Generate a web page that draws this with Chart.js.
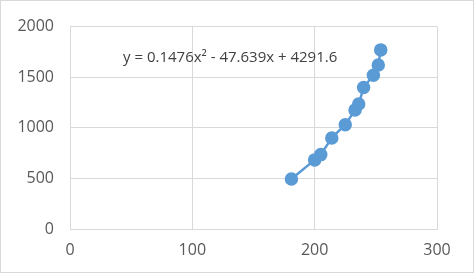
<!DOCTYPE html>
<html>
<head>
<meta charset="utf-8">
<script src="https://cdn.jsdelivr.net/npm/chart.js@4/dist/chart.umd.min.js"></script>
<style>
  html, body { margin: 0; padding: 0; background: #fff; }
  #wrap { position: relative; width: 474px; height: 273px; box-sizing: border-box; border: 1px solid #d9d9d9; }
  canvas { display: block; }
</style>
</head>
<body>
<div id="wrap"><canvas id="c" width="472" height="271"></canvas></div>
<script>
const xValues = [181, 200, 205, 214, 225, 233, 236, 240, 248, 252, 254];
const yValues = [494, 683, 735, 900, 1030, 1175, 1235, 1398, 1520, 1620, 1770];
const xTicks = [0, 100, 200, 300];
const yTicks = [0, 500, 1000, 1500, 2000];
const equationLabel = 'y = 0.1476x\u00B2 - 47.639x + 4291.6';

const points = xValues.map((x, i) => ({ x: x, y: yValues[i] }));
const FONT = '"Open Sans", "Liberation Sans", Arial, sans-serif';

const equationPlugin = {
  id: 'equation',
  afterDatasetsDraw(chart) {
    const ctx = chart.ctx;
    const area = chart.chartArea;
    ctx.save();
    ctx.font = '15px ' + FONT;
    ctx.fillStyle = '#404040';
    ctx.textAlign = 'left';
    ctx.textBaseline = 'middle';
    ctx.fillText(equationLabel, area.left + 53, area.top + 31);
    ctx.restore();
  }
};

new Chart(document.getElementById('c'), {
  type: 'scatter',
  data: {
    datasets: [{
      data: points,
      showLine: true,
      borderColor: '#5B9BD5',
      backgroundColor: '#5B9BD5',
      borderWidth: 2.5,
      pointRadius: 5.5,
      pointHoverRadius: 5.5
    }]
  },
  options: {
    responsive: false,
    animation: false,
    layout: { padding: { top: 22, right: 36, left: 0, bottom: 0 } },
    plugins: { legend: { display: false }, tooltip: { enabled: false } },
    scales: {
      x: {
        type: 'linear',
        min: 0, max: 300,
        afterBuildTicks(scale) { scale.ticks = xTicks.map(v => ({ value: v })); },
        afterFit(scale) { scale.height = 43; },
        grid: { color: '#d9d9d9', drawTicks: false, lineWidth: 1 },
        border: { color: '#d9d9d9' },
        ticks: { padding: 12, color: '#595959', font: { size: 16, family: FONT }, callback: v => String(v) }
      },
      y: {
        type: 'linear',
        min: 0, max: 2000,
        afterBuildTicks(scale) { scale.ticks = yTicks.map(v => ({ value: v })); },
        afterFit(scale) { scale.width = 69; },
        grid: { color: '#d9d9d9', drawTicks: false, lineWidth: 1 },
        border: { color: '#d9d9d9' },
        ticks: { padding: 16, color: '#595959', font: { size: 16, family: FONT }, callback: v => String(v) }
      }
    }
  },
  plugins: [equationPlugin]
});
</script>
</body>
</html>
